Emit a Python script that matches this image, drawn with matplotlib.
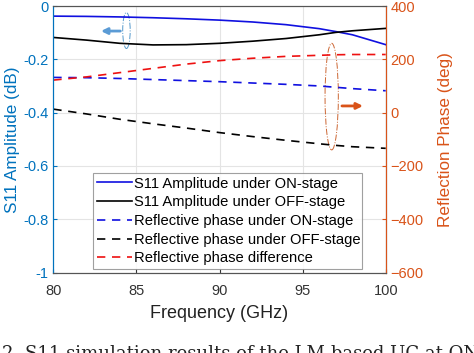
import matplotlib.pyplot as plt
from matplotlib.patches import Ellipse

plt.rcParams['font.family'] = ['Liberation Sans', 'DejaVu Sans']

freq = [80, 82, 84, 86, 88, 90, 92, 94, 96, 97, 98, 100]
amp_on = [-0.038, -0.039, -0.041, -0.044, -0.048, -0.053, -0.060, -0.070, -0.085, -0.096, -0.108, -0.145]
amp_off = [-0.118, -0.128, -0.140, -0.146, -0.145, -0.140, -0.132, -0.122, -0.108, -0.099, -0.093, -0.084]

phase_on = [132, 131, 128, 124, 120, 116, 111, 106, 100, 95, 90, 82]
phase_off = [13, -5, -25, -42, -58, -75, -90, -104, -117, -123, -128, -134]
phase_diff = [122, 134, 150, 166, 182, 195, 204, 211, 215, 217, 218, 218]

blue_ax = '#0072BD'
orange_ax = '#D95319'

fig = plt.figure(figsize=(4.74, 3.53), dpi=100)
ax = fig.add_axes([0.1125, 0.228, 0.7012, 0.755])
ax2 = ax.twinx()

l1, = ax.plot(freq, amp_on, color='#1010e0', lw=1.2, label='S11 Amplitude under ON-stage')
l2, = ax.plot(freq, amp_off, color='black', lw=1.2, label='S11 Amplitude under OFF-stage')
l3, = ax2.plot(freq, phase_on, '--', color='#1010e0', lw=1.2, dashes=(5, 4), label='Reflective phase under ON-stage')
l4, = ax2.plot(freq, phase_off, '--', color='black', lw=1.2, dashes=(5, 4), label='Reflective phase under OFF-stage')
l5, = ax2.plot(freq, phase_diff, '--', color='#ee1111', lw=1.2, dashes=(5, 4), label='Reflective phase difference')

ax.set_xlim(80, 100)
ax.set_ylim(-1, 0)
ax2.set_ylim(-600, 400)
ax.set_xticks([80, 85, 90, 95, 100])
ax.set_yticks([-1, -0.8, -0.6, -0.4, -0.2, 0])
ax.set_yticklabels(['-1', '-0.8', '-0.6', '-0.4', '-0.2', '0'])
ax2.set_yticks([-600, -400, -200, 0, 200, 400])
ax.grid(True, color='#e4e4e4', lw=0.8)

ax.tick_params(direction='in', labelsize=10.5, length=3)
ax.tick_params(axis='y', colors=blue_ax)
ax.tick_params(axis='x', colors='#333333', pad=8)
ax2.tick_params(direction='in', labelsize=10.5, length=3, colors=orange_ax)
ax2.spines['right'].set_color(orange_ax)
ax2.spines['left'].set_color(blue_ax)
ax.spines['left'].set_color(blue_ax)
for a in (ax, ax2):
    a.spines['top'].set_color('#555555')
    a.spines['bottom'].set_color('#555555')

ax.set_xlabel('Frequency (GHz)', fontsize=13, color='#222222', labelpad=5)
ax.set_ylabel('S11 Amplitude (dB)', fontsize=12.3, color=blue_ax, labelpad=2)
ax2.set_ylabel('Reflection Phase (deg)', fontsize=12.3, color=orange_ax, labelpad=10)

# annotation ellipses and arrows
ax.add_patch(Ellipse((84.4, -0.092), 0.45, 0.135, fill=False, ls='-.', lw=0.7, color='#5599cc'))
ax.annotate('', xy=(82.7, -0.094), xytext=(84.2, -0.094),
            arrowprops=dict(arrowstyle='-|>', color='#5b9bd5', lw=2, mutation_scale=9))
ax2.add_patch(Ellipse((96.75, 60), 0.8, 400, fill=False, ls='-.', lw=0.7, color='#cc6633'))
ax2.annotate('', xy=(98.8, 25), xytext=(97.2, 25),
             arrowprops=dict(arrowstyle='-|>', color=orange_ax, lw=2, mutation_scale=9))

leg = ax2.legend(handles=[l1, l2, l3, l4, l5], loc='lower left',
                 bbox_to_anchor=(0.12, 0.013, 0.81, 0.367), mode='expand',
                 fontsize=10.6, frameon=True, fancybox=False, handlelength=2.4,
                 handletextpad=0.15, borderpad=0.25, labelspacing=0.32, borderaxespad=0)
leg.get_frame().set_edgecolor('#888888')
leg.get_frame().set_linewidth(0.8)

# figure caption, cut by the bottom edge as in the source
fig.text(0.005, 1 - 345 / 353, '2. S11 simulation results of the LM-based UC at ON/OFF-state',
         fontsize=13, family='DejaVu Serif', va='top', ha='left', color='#222222')

fig.savefig('out.png', dpi=100)
